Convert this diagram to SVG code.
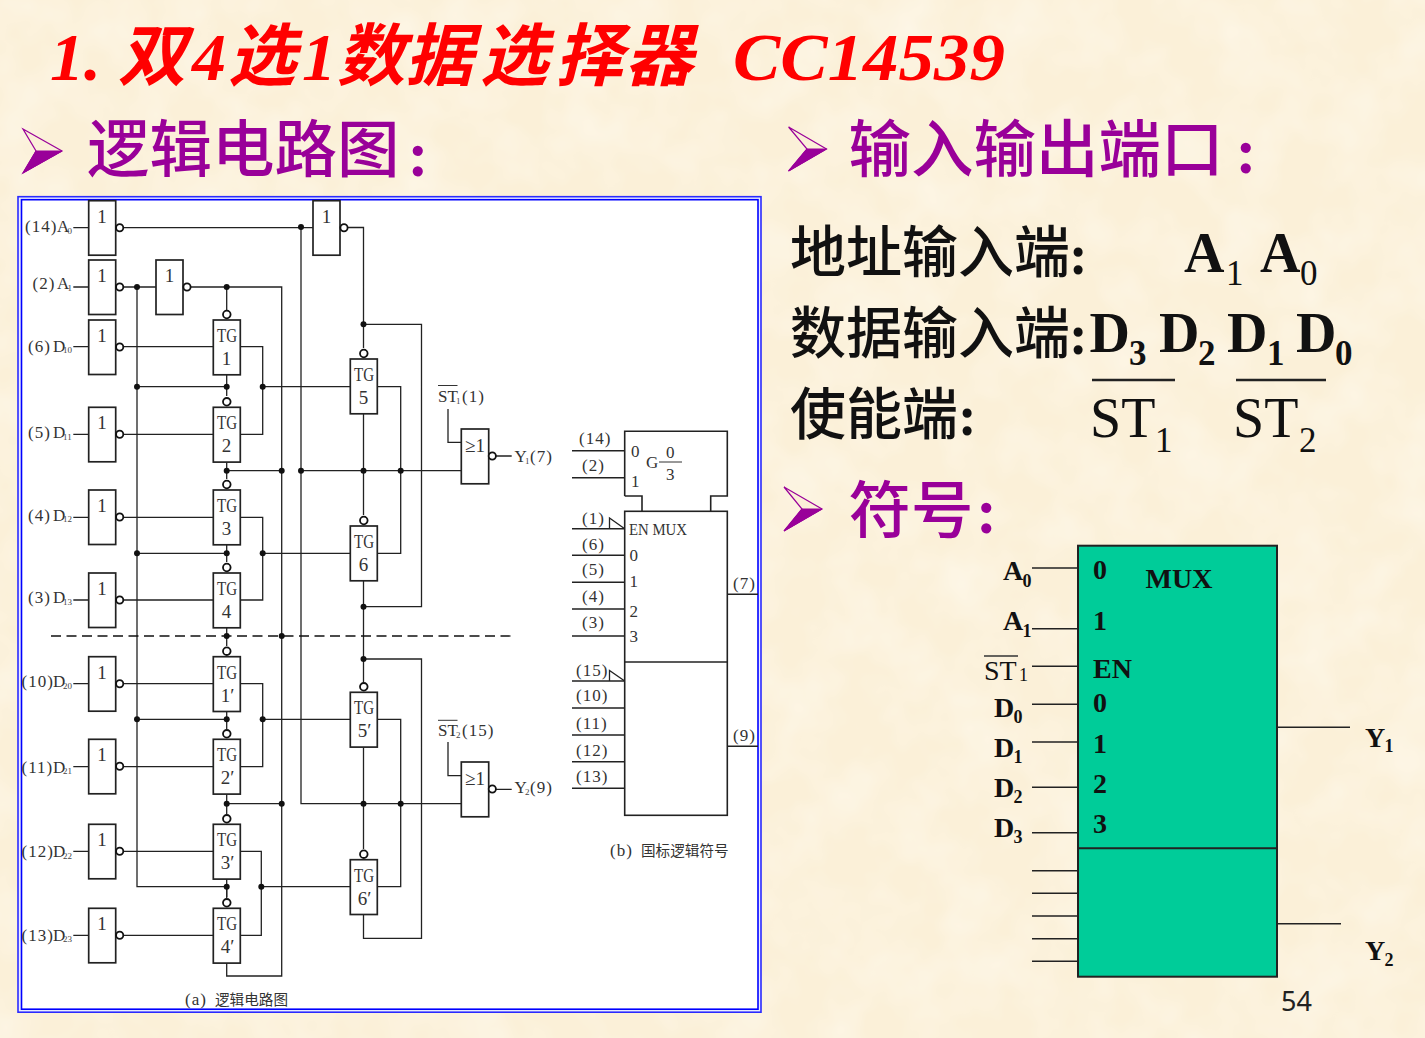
<svg xmlns="http://www.w3.org/2000/svg" width="1425" height="1038" viewBox="0 0 1425 1038">
<style>
text{font-family:"Liberation Serif","Noto Sans CJK SC",serif;fill:#222}
.title{font-size:68px;font-weight:700;font-style:italic;fill:#f00}
.head{font-size:62.5px;font-weight:500;fill:#909}
.hc{font-size:63px;font-weight:700;fill:#909}
.big{font-size:56px;font-weight:500;fill:#111}
.bc{font-size:56px;font-weight:700;fill:#111}
.bb{font-size:56px;font-weight:700;fill:#111}
.bs{font-size:35px;font-weight:400;fill:#111}
.m{font-size:28px;font-weight:700;fill:#111}
.ms{font-size:18px;font-weight:700;fill:#111}
.l{font-size:17px;fill:#333}
.s{font-size:9px;fill:#444}
.g{font-size:19px;text-anchor:middle;fill:#333}
.cap{font-size:14.6px;fill:#333}
.box{fill:#fff;stroke:#222;stroke-width:1.7}
.bub{fill:#fff;stroke:#111;stroke-width:1.8}
.w{fill:none;stroke:#222;stroke-width:1.3}
.d{fill:#111}
.sym{fill:none;stroke:#222;stroke-width:1.3}
.k{fill:none;stroke:#222;stroke-width:1.5}
.arrow{fill:#909;stroke:#909;stroke-width:1}
</style>
<defs>
<filter id="parch" x="0" y="0" width="100%" height="100%">
<feTurbulence type="fractalNoise" baseFrequency="0.018" numOctaves="3" seed="7"/>
<feColorMatrix type="matrix" values="0 0 0 0 1  0 0 0 0 0.97  0 0 0 0 0.9  0.9 0 0 0 -0.32"/>
</filter>
<g id="inv"><rect class="box" width="27" height="54.5"/><circle class="bub" cx="31" cy="27" r="3.6"/></g>
<g id="tg"><rect class="box" width="27" height="54.8"/><circle class="bub" cx="13.5" cy="-5.5" r="3.8"/></g>
<g id="or"><rect class="box" width="27.4" height="54.8"/><circle class="bub" cx="31" cy="27" r="3.6"/></g>
</defs>

<g id="background">
<rect width="1425" height="1038" fill="#fbf0d8"/>
<rect width="1425" height="1038" filter="url(#parch)"/>
</g>

<g id="title">
<text class="title" y="80"><tspan x="50">1.</tspan><tspan x="118" y="80">双</tspan><tspan x="192">4</tspan><tspan x="228">选</tspan><tspan x="302">1</tspan><tspan x="337">数</tspan><tspan x="405">据</tspan><tspan x="480">选</tspan><tspan x="555">择</tspan><tspan x="625">器</tspan></text>
<text class="title" x="733" y="80" textLength="272" lengthAdjust="spacingAndGlyphs">CC14539</text>
</g>

<g id="heading-circuit">
<polygon points="23,129 62,151 23,173 36,151" fill="#fbf0d8" stroke="#909" stroke-width="1.2"/>
<polygon class="arrow" points="62,151 23,173 36,151"/>
<text class="head" x="87" y="172">逻辑电路图</text><text class="hc" x="407.5" y="176">:</text>
</g>
<g id="heading-ports">
<polygon points="788.6,127 826.5,149 788.6,171 807,149" fill="#fbf0d8" stroke="#909" stroke-width="1.2"/>
<polygon class="arrow" points="826.5,149 788.6,171 807,149"/>
<text class="head" x="848.5" y="172">输入输出端口</text><text class="hc" x="1235.5" y="173">:</text>
</g>
<g id="heading-symbol">
<polygon points="784,487 822,509 784,531 802,509" fill="#fbf0d8" stroke="#909" stroke-width="1.2"/>
<polygon class="arrow" points="822,509 784,531 802,509"/>
<text class="head" x="848.5" y="533">符号</text><text class="hc" x="976" y="533">:</text>
</g>

<g id="ports-list">
<text class="big" x="790" y="272">地址输入端</text><text class="bc" x="1069" y="274">:</text>
<text class="bb" x="1184" y="272">A</text><text class="bs" x="1226" y="285">1</text>
<text class="bb" x="1260" y="272">A</text><text class="bs" x="1300" y="285">0</text>
<text class="big" x="790" y="353">数据输入端</text><text class="bc" x="1069" y="354">:</text>
<text class="bb" x="1089.5" y="352">D</text><text class="bs" x="1129" y="365" style="font-weight:700">3</text>
<text class="bb" x="1159" y="352">D</text><text class="bs" x="1198" y="365" style="font-weight:700">2</text>
<text class="bb" x="1227" y="352">D</text><text class="bs" x="1267" y="365" style="font-weight:700">1</text>
<text class="bb" x="1296" y="352">D</text><text class="bs" x="1335" y="365" style="font-weight:700">0</text>
<text class="big" x="790" y="434">使能端</text><text class="bc" x="958" y="435">:</text>
<line x1="1092" y1="380" x2="1175" y2="380" stroke="#222" stroke-width="2.5"/>
<line x1="1236" y1="380" x2="1326" y2="380" stroke="#222" stroke-width="2.5"/>
<text class="big" x="1090" y="437" style="font-weight:400">ST</text><text class="bs" x="1155" y="452">1</text>
<text class="big" x="1233" y="437" style="font-weight:400">ST</text><text class="bs" x="1299" y="452">2</text>
</g>

<g id="frame">
<rect x="18" y="196.7" width="743" height="815.5" fill="#e8ecff" stroke="#2a2aff" stroke-width="1.6"/>
<rect x="21.5" y="199.7" width="736.5" height="809.5" fill="#fff" stroke="#00f" stroke-width="1.6"/>
</g>

<g id="connectors">
<path class="w" d="M73.3 227.7H88.7M73.3 287H88.7M73.3 346.7H88.7M73.3 434.3H88.7M73.3 517.3H88.7M73.3 600H88.7M73.3 683.7H88.7M73.3 766.7H88.7M73.3 851.3H88.7M73.3 935.3H88.7"/>
<path class="w" d="M123.3 227.7H313M123.3 287H156M123.3 346.7H213.3M123.3 434.3H213.3M123.3 517.3H213.3M123.3 600H213.3M123.3 683.7H213.3M123.3 766.7H213.3M123.3 851.3H213.3M123.3 935.3H213.3"/>
<path class="w" d="M347.6 227.5H363.5V348M190.6 287H281.7V976H226.7V963M226.7 287V310M137 287V886.7H226.7V897"/>
<path class="w" d="M137 386.7H226.7M226.7 375V396M226.7 462.3V479M226.7 470.7H281.7M301 227V803.7H461.3M301 470.7H461.3M226.7 545V562M137 553.3H226.7M226.7 627.7V646M226.7 712V729M137 719.3H226.7M226.7 794.3V814M226.7 803.7H281.7M226.7 879V898"/>
<path class="w" d="M240.3 346.7H262.7V434.3H240.3M262.7 386.7H350.3M240.3 517.3H262.7V600H240.3M262.7 553.3H350.3M240.3 683.7H262.7V766.7H240.3M262.7 719.3H350.3M240.3 851.3H261.3V935.3H240.3M261.3 886.7H350.3"/>
<path class="w" d="M377.7 386.7H400.7V553.3H377.7M377.7 719.3H400.7V886.7H377.7M363.5 414V515M363.5 581V682M363.5 747.3V849M363.5 914.7V938.3H421.5V659H363.5M363.5 324.3H421.5V606.7H363.5"/>
<path class="w" d="M448 409V442.3H461.3M448 742V775.7H461.3M496 456H511.7M496 789.3H511.7"/>
<path d="M51 636H512" fill="none" stroke="#111" stroke-width="1.3" stroke-dasharray="10 5.5"/>
<g class="d">
<circle cx="301" cy="227" r="3"/><circle cx="137" cy="287" r="3"/><circle cx="226.7" cy="287" r="3"/><circle cx="363.5" cy="324.3" r="3"/><circle cx="137" cy="386.7" r="3"/><circle cx="226.7" cy="386.7" r="3"/><circle cx="262.7" cy="386.7" r="3"/><circle cx="226.7" cy="470.7" r="3"/><circle cx="281.7" cy="470.7" r="3"/><circle cx="301" cy="470.7" r="3"/><circle cx="363.5" cy="470.7" r="3"/><circle cx="400.7" cy="470.7" r="3"/><circle cx="137" cy="553.3" r="3"/><circle cx="226.7" cy="553.3" r="3"/><circle cx="262.7" cy="553.3" r="3"/><circle cx="363.5" cy="606.7" r="3"/><circle cx="226.7" cy="636" r="3"/><circle cx="281.7" cy="636" r="3"/><circle cx="363.5" cy="659" r="3"/><circle cx="137" cy="719.3" r="3"/><circle cx="226.7" cy="719.3" r="3"/><circle cx="262.7" cy="719.3" r="3"/><circle cx="226.7" cy="803.7" r="3"/><circle cx="281.7" cy="803.7" r="3"/><circle cx="363.5" cy="803.7" r="3"/><circle cx="400.7" cy="803.7" r="3"/><circle cx="226.7" cy="886.7" r="3"/><circle cx="261.3" cy="886.7" r="3"/>
</g>
<path class="k" d="M572 450.7H624.7M572 477.7H624.7M572 528.7H624.7M572 555.3H624.7M572 582.3H624.7M572 609H624.7M572 636H624.7M572 681H624.7M572 708H624.7M572 735H624.7M572 761.7H624.7M572 788.3H624.7M727.3 594.3H758M727.3 746.3H758"/>
<path class="sym" d="M609.5 528.7V518L624.7 528.7M609.5 681V670.5L624.7 681"/>
<path class="k" d="M1032 568H1078M1032 628.7H1078M1032 666.3H1078M1032 704.3H1078M1032 742H1078M1032 787.3H1078M1032 832.7H1078M1032 870.7H1078M1032 893.3H1078M1032 916H1078M1032 938.7H1078M1032 961.3H1078M1277 727.3H1350M1277 923.7H1341"/>
</g>

<g id="gate-a0"><use href="#inv" x="88.7" y="200.7"/><text class="g" x="102" y="223">1</text>
<text class="l" x="25" y="232" letter-spacing="1">(14)</text><text class="l" x="57" y="232">A</text><text class="s" x="67.5" y="233.5">0</text></g>
<g id="gate-a1"><use href="#inv" x="88.7" y="260"/><text class="g" x="102" y="282">1</text>
<text class="l" x="32.5" y="289.3" letter-spacing="1">(2)</text><text class="l" x="57" y="289.3">A</text><text class="s" x="67.5" y="291">1</text></g>
<g id="gate-a0b"><use href="#inv" x="313" y="200.7"/><text class="g" x="326.5" y="223">1</text></g>
<g id="gate-a1b"><use href="#inv" x="156" y="260"/><text class="g" x="169.5" y="282">1</text></g>
<g id="gate-d10"><use href="#inv" x="88.7" y="320"/><text class="g" x="102" y="342">1</text>
<text class="l" x="28" y="351.7" letter-spacing="1">(6)</text><text class="l" x="53" y="351.7">D</text><text class="s" x="63" y="353">10</text></g>
<g id="gate-d11"><use href="#inv" x="88.7" y="407.3"/><text class="g" x="102" y="429">1</text>
<text class="l" x="28" y="438.3" letter-spacing="1">(5)</text><text class="l" x="53" y="438.3">D</text><text class="s" x="63" y="440">11</text></g>
<g id="gate-d12"><use href="#inv" x="88.7" y="490"/><text class="g" x="102" y="512">1</text>
<text class="l" x="28" y="520.7" letter-spacing="1">(4)</text><text class="l" x="53" y="520.7">D</text><text class="s" x="63" y="522">12</text></g>
<g id="gate-d13"><use href="#inv" x="88.7" y="573"/><text class="g" x="102" y="595">1</text>
<text class="l" x="28" y="603.3" letter-spacing="1">(3)</text><text class="l" x="53" y="603.3">D</text><text class="s" x="63" y="605">13</text></g>
<g id="gate-d20"><use href="#inv" x="88.7" y="656.7"/><text class="g" x="102" y="678.5">1</text>
<text class="l" x="21.5" y="687.3" letter-spacing="1">(10)</text><text class="l" x="53" y="687.3">D</text><text class="s" x="63" y="689">20</text></g>
<g id="gate-d21"><use href="#inv" x="88.7" y="739.3"/><text class="g" x="102" y="761">1</text>
<text class="l" x="21.5" y="772.7" letter-spacing="1">(11)</text><text class="l" x="53" y="772.7">D</text><text class="s" x="63" y="774">21</text></g>
<g id="gate-d22"><use href="#inv" x="88.7" y="824.3"/><text class="g" x="102" y="846">1</text>
<text class="l" x="21.5" y="857.3" letter-spacing="1">(12)</text><text class="l" x="53" y="857.3">D</text><text class="s" x="63" y="859">22</text></g>
<g id="gate-d23"><use href="#inv" x="88.7" y="908.3"/><text class="g" x="102" y="930">1</text>
<text class="l" x="21.5" y="940.7" letter-spacing="1">(13)</text><text class="l" x="53" y="940.7">D</text><text class="s" x="63" y="942">23</text></g>

<g id="tg1"><use href="#tg" x="213.3" y="320"/><text class="g" x="227" y="342" textLength="20" lengthAdjust="spacingAndGlyphs">TG</text><text class="g" x="226.5" y="365">1</text></g>
<g id="tg2"><use href="#tg" x="213.3" y="407.3"/><text class="g" x="227" y="429.3" textLength="20" lengthAdjust="spacingAndGlyphs">TG</text><text class="g" x="226.5" y="452.3">2</text></g>
<g id="tg3"><use href="#tg" x="213.3" y="490"/><text class="g" x="227" y="512" textLength="20" lengthAdjust="spacingAndGlyphs">TG</text><text class="g" x="226.5" y="535">3</text></g>
<g id="tg4"><use href="#tg" x="213.3" y="573"/><text class="g" x="227" y="595" textLength="20" lengthAdjust="spacingAndGlyphs">TG</text><text class="g" x="226.5" y="618">4</text></g>
<g id="tg1p"><use href="#tg" x="213.3" y="656.7"/><text class="g" x="227" y="678.7" textLength="20" lengthAdjust="spacingAndGlyphs">TG</text><text class="g" x="227.5" y="701.7">1′</text></g>
<g id="tg2p"><use href="#tg" x="213.3" y="739.3"/><text class="g" x="227" y="761.3" textLength="20" lengthAdjust="spacingAndGlyphs">TG</text><text class="g" x="227.5" y="784.3">2′</text></g>
<g id="tg3p"><use href="#tg" x="213.3" y="824.3"/><text class="g" x="227" y="846.3" textLength="20" lengthAdjust="spacingAndGlyphs">TG</text><text class="g" x="227.5" y="869.3">3′</text></g>
<g id="tg4p"><use href="#tg" x="213.3" y="908.3"/><text class="g" x="227" y="930.3" textLength="20" lengthAdjust="spacingAndGlyphs">TG</text><text class="g" x="227.5" y="953.3">4′</text></g>
<g id="tg5"><use href="#tg" x="350.3" y="359"/><text class="g" x="364" y="381" textLength="20" lengthAdjust="spacingAndGlyphs">TG</text><text class="g" x="363.5" y="404">5</text></g>
<g id="tg6"><use href="#tg" x="350.3" y="526"/><text class="g" x="364" y="548" textLength="20" lengthAdjust="spacingAndGlyphs">TG</text><text class="g" x="363.5" y="571">6</text></g>
<g id="tg5p"><use href="#tg" x="350.3" y="692.3"/><text class="g" x="364" y="714.3" textLength="20" lengthAdjust="spacingAndGlyphs">TG</text><text class="g" x="364.5" y="737.3">5′</text></g>
<g id="tg6p"><use href="#tg" x="350.3" y="859.7"/><text class="g" x="364" y="881.7" textLength="20" lengthAdjust="spacingAndGlyphs">TG</text><text class="g" x="364.5" y="904.7">6′</text></g>

<g id="or1"><use href="#or" x="461.3" y="429"/><text class="g" x="475" y="452">≥1</text>
<line x1="438" y1="385.5" x2="457.5" y2="385.5" stroke="#333"/><text class="l" x="438" y="402.3">ST</text><text class="s" x="456" y="404">1</text><text class="l" x="462" y="402.3" letter-spacing="1">(1)</text>
<text class="l" x="514.5" y="461.7">Y</text><text class="s" x="525" y="463.5">1</text><text class="l" x="530" y="461.7" letter-spacing="1">(7)</text></g>
<g id="or2"><use href="#or" x="461.3" y="762"/><text class="g" x="475" y="785">≥1</text>
<line x1="438" y1="720.3" x2="457.5" y2="720.3" stroke="#333"/><text class="l" x="438" y="736">ST</text><text class="s" x="456" y="738">2</text><text class="l" x="462" y="736" letter-spacing="1">(15)</text>
<text class="l" x="514.5" y="793.3">Y</text><text class="s" x="525" y="795">2</text><text class="l" x="530" y="793.3" letter-spacing="1">(9)</text></g>

<g id="caption-a"><text class="l" x="185" y="1005" letter-spacing="1">(a)</text><text class="cap" x="215" y="1005">逻辑电路图</text></g>

<g id="symbol-control">
<path class="sym" d="M624.7 496V431.3H727.3V496H710.7V511.3M624.7 496H642V511.3" style="stroke-width:1.6"/>
<text class="l" x="579" y="444" letter-spacing="1">(14)</text><text class="l" x="582" y="471" letter-spacing="1">(2)</text>
<text class="l" x="631" y="457">0</text><text class="l" x="631" y="486.7">1</text><text class="l" x="646" y="468.3">G</text>
<line x1="659" y1="462" x2="682" y2="462" stroke="#333"/><text class="l" x="666" y="458">0</text><text class="l" x="666" y="480">3</text>
</g>
<g id="symbol-mux">
<rect x="624.7" y="511.3" width="102.6" height="304" fill="#fff" stroke="#222" stroke-width="1.6"/>
<line x1="624.7" y1="662" x2="727.3" y2="662" stroke="#222" stroke-width="1.3"/>
<text class="l" x="629" y="535" textLength="58" lengthAdjust="spacingAndGlyphs">EN MUX</text>
<text class="l" x="629.5" y="560.7">0</text><text class="l" x="629.5" y="587.3">1</text><text class="l" x="629.5" y="616.7">2</text><text class="l" x="629.5" y="641.7">3</text>
<text class="l" x="582" y="524" letter-spacing="1">(1)</text><text class="l" x="582" y="550" letter-spacing="1">(6)</text><text class="l" x="582" y="575" letter-spacing="1">(5)</text><text class="l" x="582" y="602" letter-spacing="1">(4)</text><text class="l" x="582" y="628.3" letter-spacing="1">(3)</text>
<text class="l" x="576" y="676" letter-spacing="1">(15)</text><text class="l" x="576" y="701" letter-spacing="1">(10)</text><text class="l" x="576" y="729" letter-spacing="1">(11)</text><text class="l" x="576" y="755.7" letter-spacing="1">(12)</text><text class="l" x="576" y="782.3" letter-spacing="1">(13)</text>
<text class="l" x="733" y="589" letter-spacing="1">(7)</text><text class="l" x="733" y="740.7" letter-spacing="1">(9)</text>
</g>
<g id="caption-b"><text class="l" x="610" y="856" letter-spacing="1">(b)</text><text class="cap" x="641" y="856">国标逻辑符号</text></g>

<g id="mux-block">
<rect x="1078" y="545.7" width="199" height="431" fill="#0c9" stroke="#222" stroke-width="2"/>
<line x1="1078" y1="848.3" x2="1277" y2="848.3" stroke="#222" stroke-width="2"/>
<text class="m" x="1145.5" y="587.7">MUX</text>
<text class="m" x="1093" y="579.3">0</text><text class="m" x="1093" y="630">1</text><text class="m" x="1093" y="677.7">EN</text><text class="m" x="1093" y="712">0</text><text class="m" x="1093" y="752.7">1</text><text class="m" x="1093" y="793">2</text><text class="m" x="1093" y="832.7">3</text>
</g>
<g id="mux-labels">
<text class="m" x="1003" y="580">A</text><text class="ms" x="1022.5" y="587">0</text>
<text class="m" x="1003" y="630">A</text><text class="ms" x="1022.5" y="637">1</text>
<line x1="984" y1="656" x2="1018" y2="656" stroke="#333" stroke-width="1.3"/>
<text class="m" x="984" y="680" style="font-weight:400">ST</text><text class="ms" x="1019" y="681" style="font-weight:400">1</text>
<text class="m" x="994" y="716.7">D</text><text class="ms" x="1013.5" y="722.5">0</text>
<text class="m" x="994" y="756.7">D</text><text class="ms" x="1013.5" y="763">1</text>
<text class="m" x="994" y="796.7">D</text><text class="ms" x="1013.5" y="803">2</text>
<text class="m" x="994" y="836.7">D</text><text class="ms" x="1013.5" y="843">3</text>
<text class="m" x="1365" y="746.7">Y</text><text class="ms" x="1384.5" y="752">1</text>
<text class="m" x="1365" y="960">Y</text><text class="ms" x="1384.5" y="966">2</text>
</g>
<text id="page-number" x="1281" y="1011" style="font-family:'Noto Sans',sans-serif;font-size:27px;fill:#222">54</text>
</svg>
